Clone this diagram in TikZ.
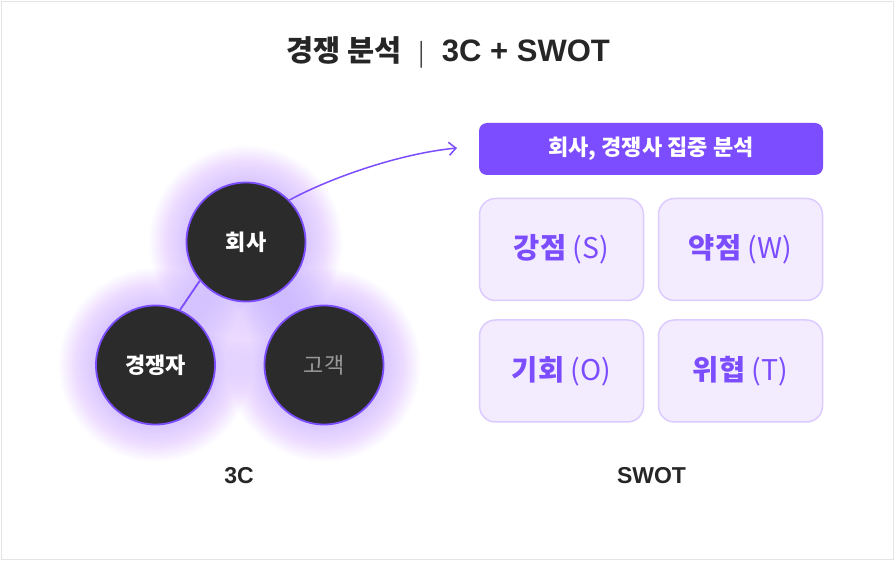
\documentclass[tikz,border=0pt]{standalone}
\usepackage{fontspec}
\setmainfont{Noto Sans CJK KR}
\newfontfamily\latfont{Liberation Sans}
\usetikzlibrary{arrows.meta}
\definecolor{vio}{HTML}{7C4DFF}
\definecolor{glowc}{HTML}{8A5CFF}
\definecolor{circfill}{HTML}{2B2B2B}
\definecolor{boxfill}{HTML}{F3ECFF}
\definecolor{boxline}{HTML}{DCCBFF}
\definecolor{framec}{HTML}{E4E4E4}
\definecolor{darktext}{HTML}{262626}
\definecolor{divc}{HTML}{444444}
\definecolor{mutetext}{HTML}{9A9A9A}
\tikzset{
  circ/.style={circle, minimum size=119pt, inner sep=0pt, fill=circfill, draw=vio, line width=1.8pt, text=white, font=\fontsize{22}{26}\selectfont},
  hdrbox/.style={rectangle, rounded corners=8pt, minimum width=344pt, minimum height=52pt, fill=vio, text=white, font=\fontsize{22}{26}\selectfont\bfseries},
  swotbox/.style={rectangle, rounded corners=16pt, minimum width=164pt, minimum height=102pt, fill=boxfill, draw=boxline, line width=1.5pt, text=vio, font=\fontsize{28.5}{33}\selectfont},
  lbl/.style={text=darktext, font=\latfont\fontsize{23}{27}\selectfont\bfseries},
  link/.style={draw=vio, line width=1.8pt},
}
\begin{document}
\begin{tikzpicture}[x=1pt,y=-1pt]
\useasboundingbox (0,0) rectangle (895,561);
\fill[white] (0,0) rectangle (895,561);
\draw[framec, line width=1.5pt] (1.5,1.5) rectangle (893.5,559.5);

% title
\node[text=darktext, font=\fontsize{29.5}{34}\selectfont] (title) at (448,52)
  {{\bfseries 경쟁 분석}\hspace{17pt}{\fontsize{24}{28}\selectfont\color{divc}|}\hspace{17pt}{\latfont\fontsize{31}{36}\selectfont\bfseries 3C + SWOT}};

% glow
\coordinate (cA) at (246,242);
\coordinate (cB) at (155.5,365);
\coordinate (cC) at (324,365);
\foreach \n in {cA,cB,cC}{
  \foreach \r in {61,62,...,97}{
    \fill[glowc, fill opacity=0.0075] (\n) circle[radius=\r pt];
  }
}

% 3C circles
\node[circ] (hoesa) at (cA) {\bfseries 회사};
\node[circ] (comp) at (cB) {\bfseries 경쟁자};
\node[circ, text=mutetext] (cust) at (cC) {고객};

\draw[link] (hoesa.220) -- (comp.66);

\coordinate (arrEnd) at (457,148);
\draw[vio, line width=1.5pt, -{Straight Barb[length=7pt,width=13pt]}]
  (hoesa.44) .. controls (326,180) and (396,154) .. (arrEnd);

% SWOT
\node[hdrbox] (hdr) at (651,149) {회사, 경쟁사 집중 분석};
\node[swotbox] (s) at (561.5,249.5) {{\bfseries 강점} (S)};
\node[swotbox] (w) at (740.5,249.5) {{\bfseries 약점} (W)};
\node[swotbox] (o) at (561.5,371) {{\bfseries 기회} (O)};
\node[swotbox] (t) at (740.5,371) {{\bfseries 위협} (T)};

% labels
\node[lbl] (lab3c) at (239,476) {3C};
\node[lbl] (labswot) at (651.5,476) {SWOT};
\end{tikzpicture}
\end{document}
